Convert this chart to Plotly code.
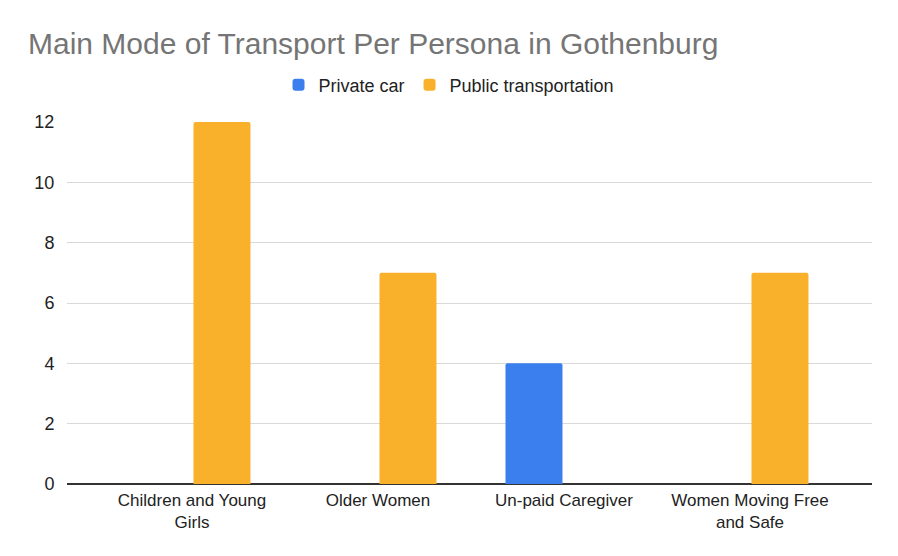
import plotly.graph_objects as go

categories = ["Children and Young<br>Girls", "Older Women", "Un-paid Caregiver", "Women Moving Free<br>and Safe"]
private_car = [0, 0, 4, 0]
public_transport = [12, 7, 0, 7]
y_ticks = [0, 2, 4, 6, 8, 10, 12]

FONT = "Liberation Sans, Arial, sans-serif"

fig = go.Figure()
fig.add_trace(go.Bar(name="Private car", x=categories, y=private_car,
                     marker=dict(color="#3B7FEF", line=dict(width=0))))
fig.add_trace(go.Bar(name="Public transportation", x=categories, y=public_transport,
                     marker=dict(color="#F9B02A", line=dict(width=0))))

fig.update_layout(
    width=898, height=556,
    margin=dict(l=67, r=26, t=122, b=72, autoexpand=False),
    paper_bgcolor="white", plot_bgcolor="white",
    barmode="group", bargap=0.355, bargroupgap=0.05, barcornerradius=2,
    title=dict(text="Main Mode of Transport Per Persona in Gothenburg",
               font=dict(family=FONT, size=30, color="#757575"),
               x=28/898, xanchor="left", y=1-43/556, yanchor="middle"),
    legend=dict(orientation="h", x=0.5, xref="container", xanchor="center",
                y=1-85/556, yref="container", yanchor="middle",
                font=dict(family=FONT, size=18, color="#222222"),
                itemwidth=30, traceorder="normal"),
    font=dict(family=FONT, size=18, color="#222222"),
)
fig.update_xaxes(type="category", range=[-0.672, 3.656], showgrid=False,
                 showline=False, ticks="", ticklabelstandoff=4,
                 tickfont=dict(family=FONT, size=17, color="#222222"))
fig.update_yaxes(range=[0, 12], tickvals=y_ticks, showgrid=True, gridcolor="#D9D9D9", gridwidth=1,
                 zeroline=True, zerolinecolor="#333333", zerolinewidth=1.5,
                 ticks="outside", ticklen=8, tickcolor="rgba(0,0,0,0)",
                 tickfont=dict(family=FONT, size=18, color="#222222"), showline=False)

fig.write_html("out.html")
